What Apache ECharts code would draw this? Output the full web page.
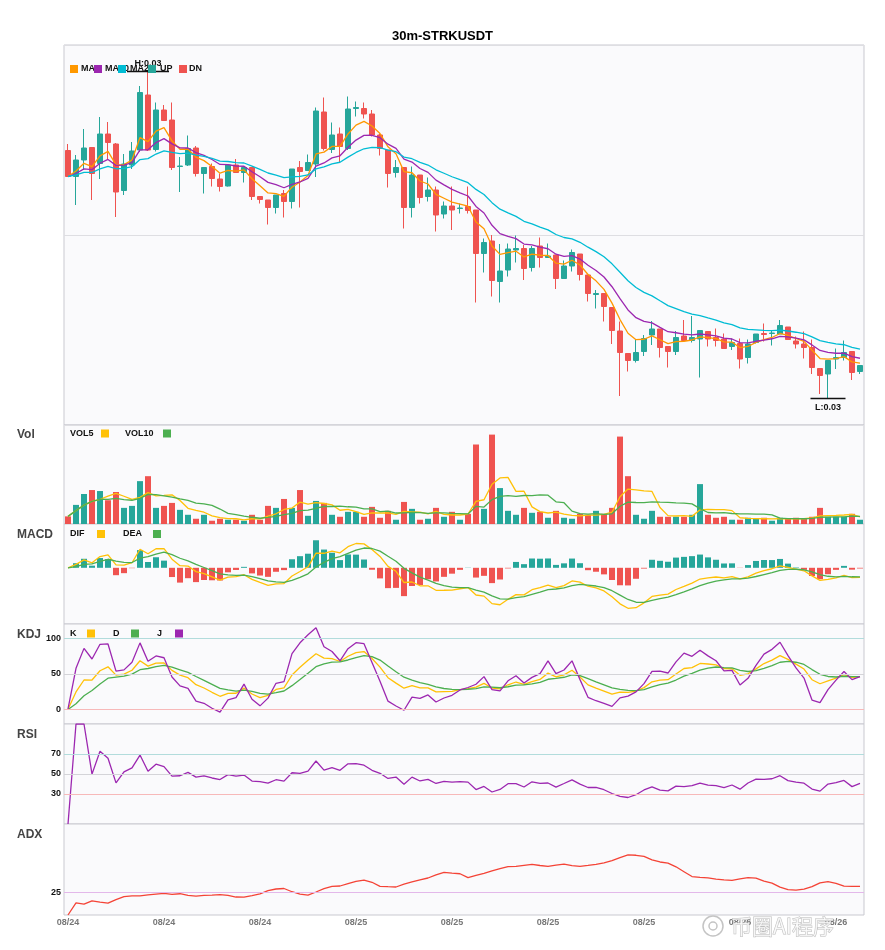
<!DOCTYPE html>
<html>
<head>
<meta charset="utf-8">
<title>30m-STRKUSDT</title>
<script src="https://cdn.jsdelivr.net/npm/echarts@6/dist/echarts.min.js"></script>
<style>
  html, body { margin: 0; padding: 0; background: #fff; }
  #chart { width: 885px; height: 950px; }
</style>
</head>
<body>
<div id="chart"></div>
<script>
// ---- data (30m candles) ----
const startTime = Date.UTC(2025, 7, 24, 8, 0);
const categories = [];
for (let i = 0; i < 100; i++) {
  const d = new Date(startTime + i * 30 * 60000);
  const mm = String(d.getUTCMonth() + 1).padStart(2, '0');
  const dd = String(d.getUTCDate()).padStart(2, '0');
  const hh = String(d.getUTCHours()).padStart(2, '0');
  const mi = String(d.getUTCMinutes()).padStart(2, '0');
  categories.push(mm + '/' + dd + ' ' + hh + ':' + mi);
}

const opens = [0.03209,0.03157,0.03190,0.03215,0.03183,0.03242,0.03222,0.03129,0.03180,0.03210,
  0.03320,0.03211,0.03290,0.03270,0.03177,0.03180,0.03214,0.03163,0.03177,0.03152,
  0.03138,0.03180,0.03165,0.03175,0.03117,0.03110,0.03095,0.03123,0.03107,0.03175,
  0.03169,0.03182,0.03286,0.03211,0.03242,0.03213,0.03293,0.03293,0.03282,0.03240,
  0.03210,0.03165,0.03175,0.03095,0.03160,0.03117,0.03130,0.03082,0.03098,0.03093,
  0.03097,0.03090,0.03003,0.03028,0.02947,0.02970,0.03010,0.03013,0.02975,0.03018,
  0.02995,0.03000,0.02953,0.02978,0.03002,0.02960,0.02921,0.02923,0.02895,0.02848,
  0.02803,0.02789,0.02807,0.02840,0.02852,0.02817,0.02807,0.02838,0.02829,0.02832,
  0.02847,0.02835,0.02832,0.02817,0.02823,0.02795,0.02825,0.02843,0.02843,0.02842,
  0.02856,0.02828,0.02822,0.02815,0.02773,0.02762,0.02792,0.02795,0.02807,0.02767];

const closes = [0.03157,0.03190,0.03214,0.03163,0.03242,0.03225,0.03126,0.03182,0.03208,0.03325,
  0.03210,0.03290,0.03269,0.03175,0.03178,0.03213,0.03163,0.03175,0.03153,0.03137,
  0.03180,0.03165,0.03175,0.03117,0.03111,0.03095,0.03120,0.03107,0.03172,0.03167,
  0.03185,0.03288,0.03213,0.03240,0.03217,0.03292,0.03295,0.03282,0.03240,0.03213,
  0.03163,0.03175,0.03095,0.03160,0.03115,0.03130,0.03080,0.03098,0.03090,0.03094,
  0.03089,0.03003,0.03025,0.02949,0.02968,0.03012,0.03013,0.02973,0.03013,0.02995,
  0.02998,0.02953,0.02978,0.03005,0.02961,0.02923,0.02923,0.02897,0.02849,0.02805,
  0.02789,0.02805,0.02833,0.02852,0.02815,0.02807,0.02835,0.02829,0.02835,0.02849,
  0.02832,0.02829,0.02813,0.02825,0.02792,0.02822,0.02842,0.02841,0.02844,0.02859,
  0.02831,0.02822,0.02815,0.02775,0.02759,0.02789,0.02795,0.02805,0.02765,0.02779];

const lows = [0.03156,0.03100,0.03170,0.03110,0.03152,0.03190,0.03076,0.03120,0.03172,0.03206,
  0.03208,0.03207,0.03268,0.03170,0.03126,0.03178,0.03157,0.03123,0.03137,0.03127,
  0.03137,0.03165,0.03145,0.03110,0.03103,0.03061,0.03083,0.03075,0.03093,0.03095,
  0.03169,0.03156,0.03209,0.03204,0.03185,0.03210,0.03277,0.03273,0.03237,0.03199,
  0.03135,0.03155,0.03053,0.03075,0.03103,0.03107,0.03047,0.03073,0.03050,0.03083,
  0.03083,0.02905,0.02965,0.02917,0.02905,0.02957,0.02985,0.02950,0.02967,0.02975,
  0.02995,0.02932,0.02953,0.02967,0.02949,0.02907,0.02893,0.02867,0.02822,0.02718,
  0.02767,0.02785,0.02798,0.02820,0.02795,0.02775,0.02800,0.02827,0.02825,0.02755,
  0.02817,0.02817,0.02813,0.02810,0.02773,0.02783,0.02823,0.02827,0.02819,0.02842,
  0.02830,0.02813,0.02793,0.02762,0.02722,0.02713,0.02772,0.02789,0.02750,0.02762];

const highs = [0.03222,0.03200,0.03252,0.03216,0.03276,0.03266,0.03224,0.03202,0.03226,0.03338,
  0.03367,0.03305,0.03300,0.03305,0.03196,0.03239,0.03218,0.03175,0.03183,0.03163,
  0.03180,0.03192,0.03175,0.03175,0.03117,0.03110,0.03120,0.03130,0.03172,0.03188,
  0.03201,0.03295,0.03315,0.03265,0.03255,0.03317,0.03307,0.03305,0.03290,0.03243,
  0.03210,0.03190,0.03175,0.03177,0.03160,0.03155,0.03137,0.03107,0.03137,0.03103,
  0.03137,0.03090,0.03033,0.03040,0.03022,0.03023,0.03039,0.03020,0.03018,0.03035,
  0.03023,0.03000,0.02989,0.03011,0.03002,0.02960,0.02930,0.02923,0.02895,0.02867,
  0.02803,0.02831,0.02840,0.02868,0.02852,0.02817,0.02848,0.02870,0.02878,0.02849,
  0.02847,0.02853,0.02843,0.02833,0.02833,0.02831,0.02842,0.02863,0.02849,0.02870,
  0.02856,0.02837,0.02847,0.02831,0.02773,0.02789,0.02813,0.02829,0.02807,0.02779];

const volumes = [7.7,19.3,30.3,34.3,33.3,24,32.3,16.3,18.3,43.3,
  48.3,16.3,18.3,21.3,14.3,9.3,5.3,9.3,3.3,5.3,
  4.3,4.3,3.3,9.3,4.3,18.3,16.3,25.3,16.3,34.3,
  8.3,23.3,21.3,9.3,7.3,12.3,12.3,7.3,17.3,6.3,
  13.3,4.3,22.3,15.3,4.3,5.3,16.3,7.3,12.3,4.3,
  10.3,80.3,15.3,90.3,36.3,13.3,9.3,16.3,11.3,12.3,
  6.3,13.3,6.3,5.3,10.3,9.3,13.3,10.3,16.3,88.3,
  48.3,9.3,5.3,13.3,7.3,7.3,7.3,7.3,9.3,40.3,
  9.3,6.3,7.3,4.3,4.3,6.3,5.3,6.3,3.3,6.3,
  5.3,6.3,5.3,7.3,16.3,7.3,7.3,7.3,10.3,4.3];

const UP = '#26a69a', DN = '#ef5350';

// ---- indicators, computed from the candles like the original chart ----
function ema(arr, n) {
  const a = 2 / (n + 1), out = [arr[0]];
  for (let i = 1; i < arr.length; i++) out.push(out[i - 1] + (arr[i] - out[i - 1]) * a);
  return out;
}
function sma(arr, n) {
  return arr.map((v, i) => {
    const s = arr.slice(Math.max(0, i - n + 1), i + 1);
    return s.reduce((p, c) => p + c, 0) / s.length;
  });
}

const ma5 = ema(closes, 5), ma10 = ema(closes, 10), ma20 = ema(closes, 20);
const vol5 = sma(volumes, 5), vol10 = sma(volumes, 10);

// fast MACD (6, 13, 5)
const emaFast = ema(closes, 6), emaSlow = ema(closes, 13);
const dif = emaFast.map((v, i) => v - emaSlow[i]);
const dea = ema(dif, 5);
const hist = dif.map((v, i) => 2 * (v - dea[i]));

const kArr = [], dArr = [], jArr = [];
{
  let k = 0, d = 0;
  for (let i = 0; i < closes.length; i++) {
    const s = Math.max(0, i - 8);
    const ll = Math.min(...lows.slice(s, i + 1)), hh = Math.max(...highs.slice(s, i + 1));
    const rsv = hh === ll ? 0 : (closes[i] - ll) / (hh - ll) * 100;
    k = (2 * k + rsv) / 3;
    d = (2 * d + k) / 3;
    kArr.push(k); dArr.push(d); jArr.push(3 * k - 2 * d);
  }
}

// RSI 14, Wilder smoothing
const rsi = [0];
{
  let au = 0, ad = 0;
  for (let i = 1; i < closes.length; i++) {
    const ch = closes[i] - closes[i - 1];
    au += (Math.max(ch, 0) - au) / 14;
    ad += (Math.max(-ch, 0) - ad) / 14;
    rsi.push(au + ad === 0 ? 0 : au / (au + ad) * 100);
  }
}

const adx = [0];
{
  const a = 2 / 15;
  let pdm = 0, mdm = 0, ax = 0;
  for (let i = 1; i < closes.length; i++) {
    const up = highs[i] - highs[i - 1], dn = lows[i - 1] - lows[i];
    const p = up > dn && up > 0 ? up : 0;
    const m = dn > up && dn > 0 ? dn : 0;
    pdm += (p - pdm) * a;
    mdm += (m - mdm) * a;
    const dx = pdm + mdm === 0 ? 0 : Math.abs(pdm - mdm) / (pdm + mdm) * 100;
    ax += (dx - ax) * a;
    adx.push(ax);
  }
}

const hiIdx = highs.indexOf(Math.max(...highs));
const loIdx = lows.indexOf(Math.min(...lows));

const candleData = opens.map((o, i) => [o, closes[i], lows[i], highs[i]]);

// ---- layout ----
const grids = [
  { top: 45, height: 380 },
  { top: 425, height: 99 },
  { top: 524, height: 100 },
  { top: 624, height: 100 },
  { top: 724, height: 100 },
  { top: 824, height: 91 }
].map(g => Object.assign({
  left: 64, right: 21, show: true, backgroundColor: '#fafafc',
  borderColor: '#c9c9d0', borderWidth: 1
}, g));

const xAxes = grids.map((g, i) => ({
  type: 'category', gridIndex: i, data: categories, boundaryGap: true,
  axisLine: { show: false }, axisTick: { show: false },
  axisLabel: i === 5 ? {
    show: true, interval: 11, formatter: v => v.slice(0, 5),
    color: '#777', fontWeight: 'bold', fontSize: 9, margin: 3
  } : { show: false },
  splitLine: { show: false }
}));

const labelStyle = { color: '#111', fontWeight: 'bold', fontSize: 9, margin: 3 };
const only = vals => v => vals.includes(Math.round(v)) ? String(Math.round(v)) : '';
const noAxis = { axisLine: { show: false }, axisTick: { show: false }, splitLine: { show: false } };

const yAxes = [
  { gridIndex: 0, min: 0.0266, max: 0.0342, interval: 0.0038,
    axisLabel: { show: false }, axisLine: { show: false }, axisTick: { show: false },
    splitLine: { show: true, lineStyle: { color: '#dedee2' } } },
  Object.assign({ gridIndex: 1, min: 0, max: 100, axisLabel: { show: false } }, noAxis),
  Object.assign({ gridIndex: 2, min: -0.00077, max: 0.0006, axisLabel: { show: false } }, noAxis),
  Object.assign({ gridIndex: 3, min: -20, max: 120, interval: 10,
    axisLabel: Object.assign({ formatter: only([0, 50, 100]) }, labelStyle) }, noAxis),
  Object.assign({ gridIndex: 4, min: 0, max: 100, interval: 10,
    axisLabel: Object.assign({ formatter: only([30, 50, 70]) }, labelStyle) }, noAxis),
  Object.assign({ gridIndex: 5, min: 0, max: 100, interval: 5,
    axisLabel: Object.assign({ formatter: only([25]) }, labelStyle) }, noAxis)
];

function line(name, data, color, axis) {
  return {
    name, type: 'line', data, xAxisIndex: axis, yAxisIndex: axis,
    symbol: 'none', smooth: false, lineStyle: { color, width: 1.3 }, itemStyle: { color },
    silent: true, z: 3
  };
}
function refLines(items) {
  return {
    silent: true, symbol: 'none', label: { show: false },
    data: items.map(([v, c]) => ({ yAxis: v, lineStyle: { color: c, width: 1, type: 'solid' } }))
  };
}

const series = [
  {
    name: 'K-line', type: 'candlestick', data: candleData, barWidth: 6,
    itemStyle: { color: UP, color0: DN, borderColor: UP, borderColor0: DN, borderWidth: 1 },
    markPoint: {
      silent: true, symbol: 'rect',
      itemStyle: { color: '#111' },
      label: { color: '#111', fontWeight: 'bold', fontSize: 9 },
      data: [
        { coord: [hiIdx, highs[hiIdx]], symbolSize: [42, 1.5],
          label: { position: 'top', distance: 3, formatter: 'H:' + highs[hiIdx].toFixed(2) } },
        { coord: [loIdx, lows[loIdx]], symbolSize: [35, 1.5],
          label: { position: 'bottom', distance: 4, formatter: 'L:' + lows[loIdx].toFixed(2) } }
      ]
    }
  },
  line('MA5', ma5, '#ff9800', 0),
  line('MA10', ma10, '#9c27b0', 0),
  line('MA20', ma20, '#00bcd4', 0),
  {
    name: 'Vol', type: 'bar', xAxisIndex: 1, yAxisIndex: 1, barWidth: 6,
    data: volumes.map((v, i) => ({ value: v, itemStyle: { color: closes[i] >= opens[i] ? UP : DN } }))
  },
  line('VOL5', vol5, '#ffc107', 1),
  line('VOL10', vol10, '#4caf50', 1),
  {
    name: 'MACD', type: 'bar', xAxisIndex: 2, yAxisIndex: 2, barWidth: 6,
    data: hist.map(v => ({ value: v, itemStyle: { color: v >= 0 ? UP : DN } }))
  },
  line('DIF', dif, '#ffc107', 2),
  line('DEA', dea, '#4caf50', 2),
  Object.assign(line('K', kArr, '#ffc107', 3),
    { markLine: refLines([[100, '#b2dcdc'], [50, '#d4d4d8'], [0, '#f7b9b9']]) }),
  line('D', dArr, '#4caf50', 3),
  line('J', jArr, '#9c27b0', 3),
  Object.assign(line('RSI', rsi, '#9c27b0', 4),
    { markLine: refLines([[70, '#b2dcdc'], [50, '#d4d4d8'], [30, '#f7b9b9']]) }),
  Object.assign(line('ADX', adx, '#f44336', 5),
    { markLine: refLines([[25, '#e3b8ea']]) })
];

// ---- legends / panel titles ----
const txt = (x, y, text, extra) => ({
  type: 'text', x, y, z: 10, silent: true,
  style: Object.assign({ text, fill: '#111', font: 'bold 9px sans-serif', verticalAlign: 'middle' }, extra || {})
});
const box = (x, y, color, z) => ({
  type: 'rect', z: z || 11, silent: true, shape: { x, y, width: 8, height: 8 }, style: { fill: color }
});
const panelTitle = (y, text) => txt(17, y, text, { fill: '#444', font: 'bold 12px sans-serif' });

const graphics = [
  // main legend: icon then text, items overlapping
  txt(81, 69, 'MA5'), txt(105, 69, 'MA10'), txt(130, 69, 'MA20'), txt(160, 69, 'UP'), txt(189, 69, 'DN'),
  box(70, 65, '#ff9800'), box(94, 65, '#9c27b0'), box(118, 65, '#00bcd4'), box(148, 65, UP), box(179, 65, DN),
  panelTitle(435, 'Vol'), panelTitle(535, 'MACD'), panelTitle(635, 'KDJ'),
  panelTitle(735, 'RSI'), panelTitle(835, 'ADX'),
  // sub panel legends: text then icon
  txt(70, 434, 'VOL5'), box(101, 429.5, '#ffc107'), txt(125, 434, 'VOL10'), box(163, 429.5, '#4caf50'),
  txt(70, 534, 'DIF'), box(97, 530, '#ffc107'), txt(123, 534, 'DEA'), box(153, 530, '#4caf50'),
  txt(70, 634, 'K'), box(87, 629.5, '#ffc107'), txt(113, 634, 'D'), box(131, 629.5, '#4caf50'),
  txt(157, 634, 'J'), box(175, 629.5, '#9c27b0'),
  // watermark of the source screenshot
  { type: 'circle', z: 20, silent: true, shape: { cx: 713, cy: 926, r: 10 },
    style: { fill: 'rgba(255,255,255,0.5)', stroke: '#c4c4c4', lineWidth: 1.5 } },
  { type: 'circle', z: 20, silent: true, shape: { cx: 713, cy: 926, r: 4 },
    style: { fill: 'none', stroke: '#c4c4c4', lineWidth: 1.5 } },
  { type: 'text', z: 20, silent: true, x: 731, y: 926,
    style: { text: '币圈AI程序', font: '21px "Noto Sans CJK SC"', fill: 'rgba(255,255,255,0.75)',
      stroke: '#bdbdbd', lineWidth: 1, verticalAlign: 'middle' } }
];

const chart = echarts.init(document.getElementById('chart'), null, { renderer: 'canvas' });
chart.setOption({
  animation: false,
  backgroundColor: '#ffffff',
  title: {
    text: '30m-STRKUSDT', left: 'center', top: 25,
    textStyle: { fontSize: 13, fontWeight: 'bold', color: '#000' }
  },
  grid: grids,
  xAxis: xAxes,
  yAxis: yAxes,
  series,
  graphic: graphics
});
</script>
</body>
</html>
